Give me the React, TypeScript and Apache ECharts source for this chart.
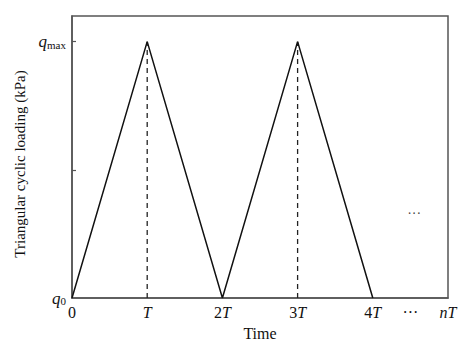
import React, { useEffect, useRef } from "react";
import * as echarts from "echarts";

const loadT = [0, 1, 2, 3, 4];
const loadQ = [0, 1, 0, 1, 0];
const dashT = [1, 3];
const dashTop = 1;
const xTickValues = [0, 1, 2, 3, 4, 4.5, 5];
const xTickLabels = ["{u|0}", "{i|T}", "{u|2}{i|T}", "{u|3}{i|T}", "{u|4}{i|T}", "{u|···}", "{i|nT}"];
const yLabelValues = [0, 1];
const yLabelTexts = ["{q|q}{s|0}", "{q|q}{s|max}"];
const yTickValues = [0.5, 1];
const dotsPos = [4.55, 0.33];

const FONT = "'Liberation Serif', 'DejaVu Serif', serif";

export default function App() {
  const ref = useRef<HTMLDivElement>(null);
  useEffect(() => {
    const chart = echarts.init(ref.current!, null, { renderer: "svg" });
    const dashSeries = dashT.map((t) => ({
      type: "line",
      data: [
        [t, 0],
        [t, dashTop],
      ],
      symbol: "none",
      lineStyle: { color: "#222", width: 1.3, type: [5, 4] },
      z: 2,
    }));
    chart.setOption({
      animation: false,
      grid: {
        left: 72,
        right: 26,
        top: 16,
        bottom: 51,
        show: true,
        borderColor: "#555",
        borderWidth: 1.5,
        backgroundColor: "transparent",
      },
      xAxis: {
        type: "value",
        min: 0,
        max: 5,
        name: "Time",
        nameLocation: "middle",
        nameGap: 27,
        nameTextStyle: { fontFamily: FONT, fontSize: 16, color: "#111" },
        splitLine: { show: false },
        axisLine: { lineStyle: { color: "#555", width: 1.5 } },
        axisTick: { show: false },
        axisLabel: {
          customValues: xTickValues,
          margin: 6,
          formatter: (v: number) => {
            const i = xTickValues.indexOf(v);
            return i >= 0 ? xTickLabels[i] : "";
          },
          rich: {
            u: { fontFamily: FONT, fontSize: 16, color: "#111" },
            i: { fontFamily: FONT, fontSize: 16, fontStyle: "italic", color: "#111" },
          },
        },
      },
      yAxis: {
        type: "value",
        min: 0,
        max: 1.1,
        name: "Triangular cyclic loading (kPa)",
        nameLocation: "middle",
        nameGap: 36,
        nameTextStyle: { fontFamily: FONT, fontSize: 15, color: "#111", padding: [0, 14, 0, 0] },
        splitLine: { show: false },
        axisLine: { show: true, lineStyle: { color: "#555", width: 1.5 } },
        axisTick: {
          show: true,
          inside: true,
          length: 4,
          customValues: yTickValues,
          lineStyle: { color: "#555", width: 1.2 },
        },
        axisLabel: {
          customValues: yLabelValues,
          margin: 6,
          formatter: (v: number) => {
            const i = yLabelValues.indexOf(v);
            return i >= 0 ? yLabelTexts[i] : "";
          },
          rich: {
            q: { fontFamily: FONT, fontSize: 17, fontStyle: "italic", color: "#111" },
            s: {
              fontFamily: FONT,
              fontSize: 11,
              color: "#111",
              verticalAlign: "bottom",
              padding: [6, 0, 0, 0],
            },
          },
        },
      },
      series: [
        {
          type: "line",
          data: loadT.map((t, i) => [t, loadQ[i]]),
          symbol: "none",
          lineStyle: { color: "#111", width: 1.5 },
          z: 3,
        },
        ...dashSeries,
        {
          type: "scatter",
          data: [dotsPos],
          symbolSize: 0,
          label: {
            show: true,
            position: "inside",
            formatter: "···",
            fontFamily: FONT,
            fontSize: 14,
            color: "#111",
          },
        },
      ],
    });
    return () => chart.dispose();
  }, []);
  return <div ref={ref} style={{ width: 474, height: 349, position: "absolute", left: 0, top: 0, background: "#fff" }} />;
}
